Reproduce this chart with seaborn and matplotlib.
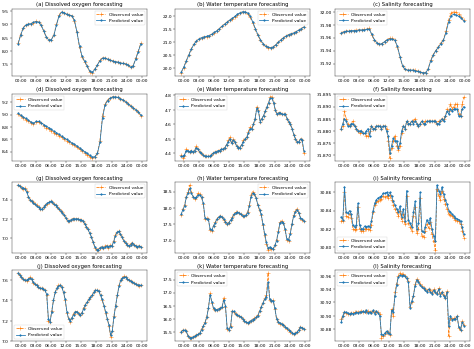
import numpy as np
import matplotlib
matplotlib.use("Agg")
import matplotlib.pyplot as plt
import seaborn as sns

titles = ["(a) Dissolved oxygen forecasting", "(b) Water temperature forecasting", "(c) Salinity forecasting",
          "(d) Dissolved oxygen forecasting", "(e) Water temperature forecasting", "(f) Salinity forecasting",
          "(g) Dissolved oxygen forecasting", "(h) Water temperature forecasting", "(i) Salinity forecasting",
          "(j) Dissolved oxygen forecasting", "(k) Water temperature forecasting", "(l) Salinity forecasting"]
time_labels = ["00:00", "03:00", "06:00", "12:00", "15:00", "18:00", "21:00", "24:00", "00:00"]

obs_a = [8.30,8.62,8.88,8.98,9.01,9.03,9.07,9.12,9.10,8.98,8.75,8.52,8.42,8.42,8.62,9.00,9.35,9.48,9.44,9.38,9.36,9.33,9.15,8.70,8.15,7.78,7.60,7.42,7.22,7.18,7.32,7.48,7.65,7.74,7.73,7.68,7.65,7.62,7.60,7.57,7.55,7.53,7.51,7.46,7.38,7.45,7.72,8.00,8.30]
pred_a = [8.27,8.60,8.87,8.98,9.02,9.03,9.08,9.11,9.09,8.97,8.76,8.53,8.41,8.43,8.60,8.98,9.33,9.47,9.45,9.38,9.35,9.33,9.16,8.72,8.18,7.80,7.61,7.43,7.24,7.19,7.31,7.47,7.64,7.73,7.73,7.69,7.65,7.62,7.60,7.58,7.55,7.53,7.51,7.47,7.39,7.44,7.70,7.98,8.28]

obs_b = [19.82,20.02,20.28,20.52,20.75,20.92,21.05,21.12,21.18,21.20,21.22,21.26,21.31,21.37,21.45,21.53,21.61,21.70,21.78,21.85,21.91,21.99,22.07,22.12,22.16,22.16,22.10,21.98,21.76,21.50,21.27,21.08,20.93,20.84,20.79,20.78,20.81,20.90,21.00,21.09,21.17,21.24,21.29,21.32,21.36,21.41,21.47,21.53,21.59]
pred_b = [19.84,20.03,20.27,20.51,20.74,20.92,21.05,21.13,21.18,21.21,21.23,21.26,21.31,21.38,21.45,21.53,21.62,21.70,21.78,21.86,21.92,22.00,22.08,22.14,22.18,22.18,22.13,22.01,21.79,21.53,21.29,21.10,20.95,20.85,20.80,20.79,20.82,20.90,21.00,21.09,21.17,21.24,21.29,21.33,21.36,21.41,21.47,21.53,21.59]

obs_c = [31.968,31.969,31.970,31.971,31.971,31.971,31.972,31.972,31.972,31.973,31.973,31.975,31.964,31.956,31.952,31.950,31.951,31.954,31.957,31.959,31.959,31.956,31.946,31.930,31.916,31.911,31.910,31.910,31.910,31.910,31.908,31.907,31.906,31.906,31.912,31.925,31.934,31.940,31.946,31.952,31.957,31.970,31.987,31.998,32.000,31.999,31.996,31.992,31.987]
pred_c = [31.967,31.969,31.970,31.970,31.971,31.971,31.971,31.972,31.972,31.972,31.973,31.973,31.965,31.957,31.952,31.950,31.951,31.954,31.957,31.958,31.958,31.956,31.947,31.931,31.917,31.911,31.910,31.910,31.910,31.909,31.908,31.907,31.906,31.906,31.911,31.924,31.933,31.940,31.945,31.951,31.956,31.968,31.984,31.994,31.996,31.995,31.993,31.990,31.986]

obs_d = [9.01,8.98,8.95,8.92,8.90,8.87,8.85,8.88,8.88,8.86,8.82,8.79,8.77,8.74,8.71,8.69,8.66,8.63,8.60,8.58,8.55,8.52,8.50,8.47,8.44,8.41,8.38,8.35,8.32,8.30,8.31,8.37,8.58,8.98,9.17,9.24,9.27,9.29,9.29,9.28,9.26,9.24,9.21,9.18,9.14,9.11,9.08,9.04,8.98]
pred_d = [9.02,8.99,8.96,8.94,8.91,8.88,8.86,8.89,8.89,8.87,8.84,8.81,8.79,8.76,8.73,8.71,8.68,8.65,8.62,8.60,8.57,8.54,8.52,8.49,8.46,8.43,8.40,8.37,8.34,8.31,8.32,8.37,8.55,8.95,9.16,9.23,9.27,9.29,9.29,9.28,9.26,9.24,9.21,9.18,9.14,9.11,9.08,9.05,8.99]

obs_e = [4.39,4.37,4.38,4.43,4.42,4.41,4.42,4.41,4.42,4.45,4.43,4.41,4.40,4.39,4.38,4.38,4.38,4.38,4.39,4.40,4.41,4.41,4.42,4.42,4.43,4.43,4.44,4.46,4.49,4.51,4.47,4.50,4.48,4.45,4.44,4.44,4.46,4.49,4.50,4.51,4.55,4.58,4.57,4.60,4.64,4.72,4.70,4.62,4.64,4.66,4.69,4.72,4.75,4.79,4.79,4.75,4.70,4.67,4.68,4.68,4.67,4.67,4.67,4.64,4.62,4.60,4.57,4.53,4.50,4.48,4.48,4.50,4.49,4.40]
pred_e = [4.38,4.38,4.39,4.42,4.42,4.41,4.42,4.41,4.42,4.44,4.43,4.41,4.40,4.39,4.38,4.38,4.38,4.38,4.39,4.40,4.41,4.41,4.42,4.42,4.43,4.43,4.44,4.46,4.48,4.50,4.47,4.49,4.48,4.45,4.44,4.44,4.46,4.48,4.50,4.51,4.54,4.57,4.57,4.60,4.64,4.71,4.69,4.62,4.64,4.66,4.69,4.72,4.75,4.78,4.78,4.75,4.70,4.67,4.68,4.68,4.67,4.67,4.67,4.64,4.62,4.60,4.57,4.53,4.50,4.48,4.48,4.50,4.49,4.42]

obs_f = [31.881,31.882,31.888,31.885,31.883,31.882,31.883,31.884,31.882,31.881,31.880,31.879,31.880,31.879,31.879,31.878,31.878,31.880,31.882,31.881,31.881,31.882,31.882,31.882,31.881,31.882,31.882,31.881,31.876,31.869,31.873,31.876,31.878,31.874,31.872,31.874,31.879,31.882,31.881,31.884,31.883,31.883,31.884,31.884,31.885,31.883,31.882,31.883,31.884,31.883,31.884,31.884,31.884,31.884,31.884,31.884,31.884,31.883,31.884,31.884,31.885,31.885,31.886,31.889,31.888,31.891,31.889,31.890,31.891,31.891,31.887,31.886,31.891,31.894]
pred_f = [31.881,31.883,31.885,31.884,31.882,31.882,31.883,31.883,31.882,31.881,31.880,31.880,31.880,31.879,31.879,31.880,31.881,31.878,31.882,31.881,31.881,31.882,31.882,31.882,31.881,31.882,31.882,31.880,31.878,31.871,31.874,31.877,31.876,31.876,31.873,31.875,31.880,31.882,31.881,31.884,31.883,31.883,31.884,31.883,31.884,31.883,31.882,31.883,31.884,31.883,31.883,31.884,31.884,31.884,31.884,31.884,31.884,31.883,31.883,31.884,31.885,31.884,31.886,31.888,31.887,31.889,31.888,31.889,31.889,31.889,31.886,31.886,31.889,31.890]

obs_g = [7.55,7.54,7.52,7.51,7.52,7.49,7.43,7.40,7.38,7.37,7.35,7.34,7.32,7.30,7.30,7.32,7.34,7.35,7.37,7.38,7.37,7.35,7.34,7.32,7.30,7.28,7.27,7.24,7.21,7.18,7.18,7.19,7.20,7.20,7.20,7.20,7.19,7.19,7.18,7.15,7.12,7.09,7.05,7.01,6.96,6.90,6.88,6.88,6.90,6.91,6.90,6.92,6.92,6.90,6.93,6.92,6.97,7.03,7.06,7.07,7.04,7.01,6.97,6.95,6.93,6.92,6.94,6.95,6.93,6.92,6.91,6.92,6.91]
pred_g = [7.55,7.54,7.52,7.52,7.51,7.48,7.43,7.40,7.38,7.36,7.35,7.33,7.32,7.30,7.30,7.32,7.34,7.36,7.37,7.38,7.37,7.35,7.34,7.32,7.30,7.28,7.26,7.24,7.21,7.18,7.18,7.19,7.20,7.20,7.20,7.20,7.19,7.19,7.18,7.15,7.12,7.09,7.05,7.01,6.96,6.91,6.88,6.88,6.90,6.91,6.90,6.91,6.92,6.91,6.92,6.92,6.96,7.02,7.06,7.07,7.04,7.01,6.97,6.95,6.93,6.92,6.93,6.95,6.93,6.92,6.91,6.92,6.91]

obs_h = [17.78,17.96,18.08,18.35,18.50,18.70,18.48,18.35,18.28,18.33,18.45,18.42,18.32,18.12,17.66,17.68,17.65,17.32,17.30,17.45,17.56,17.66,17.73,17.75,17.72,17.64,17.57,17.51,17.55,17.62,17.71,17.81,17.86,17.87,17.85,17.80,17.75,17.74,17.78,17.86,18.08,18.40,18.50,18.44,18.30,18.08,17.93,17.78,17.47,17.16,16.90,16.72,16.78,16.74,16.73,16.85,17.02,17.28,17.58,17.60,17.55,17.32,17.02,17.00,17.22,17.52,17.78,17.90,17.97,17.85,17.70,17.64,17.60]
pred_h = [17.80,17.95,18.05,18.32,18.45,18.60,18.45,18.35,18.30,18.32,18.40,18.40,18.32,18.15,17.70,17.65,17.65,17.35,17.32,17.45,17.55,17.65,17.72,17.75,17.72,17.65,17.58,17.52,17.55,17.62,17.70,17.80,17.85,17.86,17.85,17.80,17.76,17.75,17.78,17.85,18.05,18.35,18.45,18.42,18.30,18.10,17.95,17.80,17.50,17.20,16.95,16.78,16.80,16.76,16.75,16.85,17.00,17.25,17.55,17.58,17.55,17.35,17.05,17.02,17.20,17.50,17.75,17.88,17.95,17.85,17.70,17.65,17.60]

obs_i = [30.829,30.828,30.860,30.834,30.833,30.836,30.832,30.820,30.819,30.820,30.844,30.820,30.817,30.818,30.820,30.820,30.820,30.819,30.824,30.838,30.846,30.849,30.851,30.852,30.853,30.856,30.855,30.856,30.854,30.857,30.852,30.846,30.842,30.838,30.834,30.840,30.829,30.836,30.825,30.856,30.826,30.822,30.818,30.834,30.844,30.815,30.820,30.854,30.812,30.811,30.817,30.825,30.821,30.827,30.814,30.806,30.797,30.864,30.856,30.852,30.862,30.853,30.847,30.842,30.836,30.835,30.834,30.832,30.830,30.829,30.828,30.825,30.818,30.810]
pred_i = [30.833,30.830,30.866,30.838,30.837,30.840,30.836,30.824,30.822,30.824,30.848,30.824,30.820,30.820,30.823,30.822,30.823,30.822,30.828,30.840,30.848,30.852,30.854,30.855,30.856,30.859,30.859,30.860,30.857,30.860,30.856,30.850,30.846,30.842,30.838,30.845,30.833,30.842,30.829,30.862,30.830,30.826,30.822,30.838,30.850,30.820,30.826,30.860,30.818,30.816,30.822,30.830,30.826,30.832,30.820,30.812,30.806,30.868,30.862,30.858,30.866,30.858,30.852,30.847,30.840,30.838,30.836,30.834,30.832,30.831,30.830,30.828,30.822,30.814]

obs_j = [7.67,7.65,7.63,7.61,7.60,7.59,7.61,7.63,7.61,7.57,7.56,7.55,7.53,7.52,7.52,7.51,7.50,7.45,7.20,7.19,7.30,7.40,7.48,7.52,7.55,7.55,7.53,7.48,7.40,7.28,7.22,7.19,7.23,7.27,7.29,7.29,7.27,7.26,7.28,7.33,7.36,7.38,7.41,7.43,7.45,7.48,7.50,7.50,7.49,7.45,7.40,7.35,7.28,7.22,7.15,7.04,7.10,7.25,7.35,7.45,7.55,7.60,7.62,7.64,7.63,7.61,7.60,7.59,7.58,7.57,7.56,7.55,7.54,7.55]
pred_j = [7.67,7.65,7.63,7.61,7.60,7.60,7.61,7.62,7.61,7.58,7.56,7.55,7.53,7.52,7.52,7.51,7.50,7.46,7.22,7.19,7.29,7.40,7.48,7.52,7.54,7.55,7.53,7.48,7.41,7.29,7.22,7.20,7.23,7.26,7.29,7.29,7.27,7.26,7.28,7.32,7.36,7.38,7.41,7.43,7.45,7.48,7.50,7.50,7.49,7.45,7.41,7.35,7.29,7.22,7.16,7.06,7.10,7.24,7.35,7.45,7.54,7.60,7.62,7.63,7.63,7.61,7.60,7.59,7.58,7.57,7.56,7.55,7.55,7.55]

obs_k = [15.50,15.56,15.57,15.52,15.34,15.27,15.28,15.30,15.33,15.37,15.40,15.46,15.59,15.73,15.86,16.07,16.42,16.97,16.62,16.38,16.34,16.35,16.38,16.41,16.46,16.80,16.45,15.62,15.57,15.72,16.30,16.27,16.17,16.13,16.11,16.07,16.00,15.92,15.86,15.84,15.88,15.93,15.97,16.01,16.06,16.13,16.30,16.47,16.62,16.78,16.90,17.75,16.72,16.67,16.71,16.38,15.98,15.87,15.81,15.79,15.76,15.70,15.62,15.56,15.51,15.46,15.42,15.44,15.49,15.58,15.68,15.66,15.61]
pred_k = [15.50,15.55,15.56,15.52,15.35,15.28,15.28,15.30,15.33,15.37,15.40,15.45,15.58,15.72,15.85,16.05,16.40,16.92,16.65,16.40,16.35,16.35,16.38,16.40,16.45,16.72,16.50,15.65,15.58,15.70,16.28,16.28,16.18,16.13,16.11,16.08,16.00,15.93,15.87,15.85,15.88,15.93,15.97,16.00,16.05,16.12,16.28,16.45,16.60,16.75,16.85,17.40,16.75,16.68,16.70,16.40,16.00,15.88,15.82,15.80,15.77,15.70,15.63,15.57,15.52,15.47,15.43,15.44,15.48,15.57,15.67,15.66,15.62]

obs_l = [30.895,30.899,30.905,30.904,30.903,30.903,30.904,30.904,30.905,30.905,30.906,30.905,30.907,30.906,30.907,30.906,30.907,30.905,30.906,30.907,30.905,30.906,30.905,30.902,30.867,30.870,30.873,30.876,30.875,30.871,30.910,30.900,30.935,30.948,30.960,30.964,30.962,30.962,30.960,30.957,30.952,30.913,30.920,30.930,30.947,30.955,30.952,30.948,30.944,30.942,30.940,30.937,30.940,30.938,30.934,30.940,30.936,30.934,30.941,30.932,30.936,30.931,30.927,30.937,30.870,30.896,30.895,30.896,30.895,30.900,30.882,30.878,30.892,30.886]
pred_l = [30.890,30.900,30.906,30.905,30.904,30.902,30.904,30.903,30.904,30.905,30.904,30.906,30.905,30.907,30.905,30.908,30.904,30.906,30.904,30.908,30.903,30.907,30.904,30.900,30.872,30.871,30.874,30.877,30.874,30.872,30.908,30.905,30.930,30.946,30.958,30.961,30.960,30.961,30.959,30.956,30.950,30.912,30.922,30.930,30.945,30.954,30.951,30.946,30.943,30.941,30.938,30.936,30.940,30.936,30.933,30.938,30.935,30.932,30.940,30.930,30.935,30.930,30.926,30.935,30.884,30.900,30.894,30.895,30.895,30.899,30.883,30.879,30.890,30.885]

observed = [obs_a, obs_b, obs_c, obs_d, obs_e, obs_f, obs_g, obs_h, obs_i, obs_j, obs_k, obs_l]
predicted = [pred_a, pred_b, pred_c, pred_d, pred_e, pred_f, pred_g, pred_h, pred_i, pred_j, pred_k, pred_l]

yticks = [[7.5, 8.0, 8.5, 9.0, 9.5], [20.0, 20.5, 21.0, 21.5, 22.0], [31.92, 31.94, 31.96, 31.98, 32.00],
          [8.4, 8.6, 8.8, 9.0, 9.2], [4.4, 4.5, 4.6, 4.7, 4.8], [31.870, 31.875, 31.880, 31.885, 31.890, 31.895],
          [7.0, 7.2, 7.4], [17.0, 17.5, 18.0, 18.5], [30.80, 30.82, 30.84, 30.86],
          [7.0, 7.2, 7.4, 7.6], [15.5, 16.0, 16.5, 17.0, 17.5], [30.88, 30.90, 30.92, 30.94, 30.96]]
legend_locs = ["upper right", "upper right", "upper left", "upper left", "upper left", "upper left",
               "upper right", "upper right", "lower left", "lower left", "upper left", "upper left"]

DPI = 31.6
fig, axes = plt.subplots(4, 3, figsize=(474 / DPI, 349.3 / DPI), dpi=DPI)
W, H = 474.0, 349.0
col_left = [12, 175, 335]
col_w = 135
row_top = [9, 94, 182, 270]
row_bot = [76, 161, 253, 341]

tick_pos = np.linspace(0.5, 24.2, 9)

for k, ax in enumerate(axes.flat):
    r, c = divmod(k, 3)
    ax.set_position([col_left[c] / W, 1 - row_bot[r] / H, col_w / W, (row_bot[r] - row_top[r]) / H])
    o = observed[k]
    p = predicted[k]
    x = np.linspace(0, 24, len(o))
    sns.lineplot(x=x, y=o, ax=ax, color="tab:orange", linestyle="--", marker="+",
                 markeredgecolor="tab:orange", markeredgewidth=1.2, markersize=7, linewidth=1.8,
                 label="Observed value", sort=False, errorbar=None)
    sns.lineplot(x=x, y=p, ax=ax, color="tab:blue", linestyle="-", marker=".",
                 markeredgecolor="tab:blue", markeredgewidth=1.2, markersize=7, linewidth=1.8,
                 label="Predicted value", sort=False, errorbar=None)
    ax.set_title(titles[k], fontsize=12)
    ax.set_xticks(tick_pos)
    ax.set_xticklabels(time_labels, fontsize=10)
    ax.set_yticks(yticks[k])
    ax.ticklabel_format(axis="y", useOffset=False)
    ax.tick_params(labelsize=10)
    ax.set_xlabel("")
    ax.set_ylabel("")
    ax.legend(loc=legend_locs[k], fontsize=10)

fig.savefig("out.png", dpi=DPI)
